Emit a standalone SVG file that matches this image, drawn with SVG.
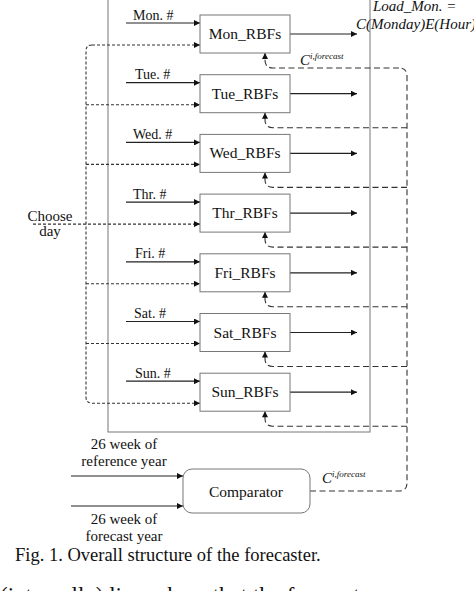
<svg xmlns="http://www.w3.org/2000/svg" width="474" height="591" viewBox="0 0 474 591">
<defs>
<marker id="ah" viewBox="0 0 10 10" refX="10" refY="5" markerWidth="8" markerHeight="6" markerUnits="userSpaceOnUse" orient="auto">
<path d="M0,0 L10,5 L0,10 z" fill="#111"/>
</marker>
</defs>
<style>
.box{fill:#fff;stroke:#777;stroke-width:1}
.frame{fill:none;stroke:#777;stroke-width:1}
.sol{fill:none;stroke:#222;stroke-width:1.2;marker-end:url(#ah)}
.dot{fill:none;stroke:#333;stroke-width:1.1;stroke-dasharray:3 2}
.dash{fill:none;stroke:#333;stroke-width:1.1;stroke-dasharray:6 3.5}
.arr{marker-end:url(#ah)}
text{font-family:"Liberation Serif","Times New Roman",serif;fill:#111}
.bl{font-size:15.5px;text-anchor:middle}
.il{font-size:14px}
.it{font-style:italic}
</style>
<rect class="frame" x="108" y="-5" width="262" height="437"/>
<g id="connectors">
<path class="sol" d="M126,23 H200"/>
<path class="sol" d="M126,82.7 H200"/>
<path class="sol" d="M126,142.4 H200"/>
<path class="sol" d="M126,202.1 H200"/>
<path class="sol" d="M126,261.8 H200"/>
<path class="sol" d="M126,321.5 H200"/>
<path class="sol" d="M126,381.2 H200"/>
<path class="sol" d="M290,34 H357"/>
<path class="sol" d="M290,93.7 H357"/>
<path class="sol" d="M290,153.4 H357"/>
<path class="sol" d="M290,213.1 H357"/>
<path class="sol" d="M290,272.8 H357"/>
<path class="sol" d="M290,332.5 H357"/>
<path class="sol" d="M290,392.2 H357"/>
<path class="dot" d="M92,45 Q86,45 86,51 V397 Q86,403 92,403"/>
<path class="dot arr" d="M92,45 H200"/>
<path class="dot arr" d="M86,104.7 H200"/>
<path class="dot arr" d="M86,164.4 H200"/>
<path class="dot arr" d="M33,224.1 H200"/>
<path class="dot arr" d="M86,283.8 H200"/>
<path class="dot arr" d="M86,343.5 H200"/>
<path class="dot arr" d="M92,403.2 H200"/>
<path class="dash" d="M310,491 H399 Q407,491 407,483 V76 Q407,68 399,68"/>
<path class="dash arr" d="M399,68 H273 Q265,68 265,60 V53"/>
<path class="dash arr" d="M407,127.7 H273 Q265,127.7 265,119.7 V112.7"/>
<path class="dash arr" d="M407,187.4 H273 Q265,187.4 265,179.4 V172.4"/>
<path class="dash arr" d="M407,247.1 H273 Q265,247.1 265,239.1 V232.1"/>
<path class="dash arr" d="M407,306.8 H273 Q265,306.8 265,298.8 V291.8"/>
<path class="dash arr" d="M407,366.5 H273 Q265,366.5 265,358.5 V351.5"/>
<path class="dash arr" d="M407,426.2 H273 Q265,426.2 265,418.2 V411.2"/>
<path class="sol" d="M71,476 H183"/>
<path class="sol" d="M71,506 H183"/>
</g>
<g id="mon"><rect class="box" x="200" y="15" width="90" height="38"/><text class="bl" x="245" y="39">Mon_RBFs</text></g>
<g id="tue"><rect class="box" x="200" y="74.7" width="90" height="38"/><text class="bl" x="245" y="98.7">Tue_RBFs</text></g>
<g id="wed"><rect class="box" x="200" y="134.4" width="90" height="38"/><text class="bl" x="245" y="158.4">Wed_RBFs</text></g>
<g id="thr"><rect class="box" x="200" y="194.1" width="90" height="38"/><text class="bl" x="245" y="218.1">Thr_RBFs</text></g>
<g id="fri"><rect class="box" x="200" y="253.8" width="90" height="38"/><text class="bl" x="245" y="277.8">Fri_RBFs</text></g>
<g id="sat"><rect class="box" x="200" y="313.5" width="90" height="38"/><text class="bl" x="245" y="337.5">Sat_RBFs</text></g>
<g id="sun"><rect class="box" x="200" y="373.2" width="90" height="38"/><text class="bl" x="245" y="397.2">Sun_RBFs</text></g>
<g id="comparator"><rect class="box" x="183" y="469" width="127" height="44" rx="9"/><text class="bl" x="246" y="497">Comparator</text></g>
<g id="labels">
<text class="il" x="133" y="19.5">Mon. #</text>
<text class="il" x="135" y="79">Tue. #</text>
<text class="il" x="133" y="139">Wed. #</text>
<text class="il" x="133" y="198.5">Thr. #</text>
<text class="il" x="135" y="258">Fri. #</text>
<text class="il" x="134" y="318">Sat. #</text>
<text class="il" x="135" y="377.5">Sun. #</text>
<text x="50" y="221" font-size="15" text-anchor="middle">Choose</text>
<text x="50" y="236" font-size="15" text-anchor="middle">day</text>
<text class="it" x="373" y="11" font-size="15">Load_Mon. =</text>
<text class="it" x="356" y="29" font-size="15">C(Monday)E(Hour)</text>
<text class="it" x="300" y="65" font-size="15">C<tspan font-size="9" dy="-6">i,forecast</tspan></text>
<text class="it" x="322" y="483" font-size="15">C<tspan font-size="9" dy="-6">i,forecast</tspan></text>
<text x="124" y="449" font-size="15" text-anchor="middle">26 week of</text>
<text x="124" y="466" font-size="15" text-anchor="middle">reference year</text>
<text x="124" y="524" font-size="15" text-anchor="middle">26 week of</text>
<text x="124" y="541" font-size="15" text-anchor="middle">forecast year</text>
<text x="15" y="561" font-size="18.5">Fig. 1. Overall structure of the forecaster.</text>
<text x="0" y="603" font-size="23">(intervally) lines show that the forecast</text>
</g>
</svg>
